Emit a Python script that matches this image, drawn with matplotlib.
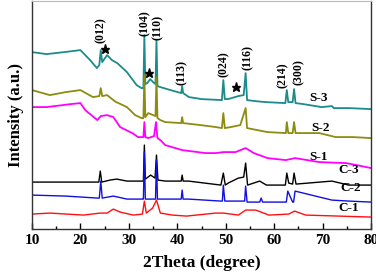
import matplotlib
matplotlib.use("Agg")
import matplotlib.pyplot as plt
from matplotlib.ticker import MultipleLocator

# XRD patterns, 2theta (deg) and intensity (a.u.)
tt_s3 = [10, 13, 16.7, 20, 21, 22, 23.4, 23.9, 24.2, 24.5, 25.5, 26.5, 27.6, 29.6, 31.6, 32.6,
         33.0, 33.2, 33.4, 33.8, 34.4, 35.0, 35.5, 35.7, 35.9, 36.5, 38.6, 40.8, 41.0, 41.2,
         42.4, 45, 49.2, 49.5, 49.8, 50.5, 52.6, 53.7, 54.1, 54.4, 56, 58.2, 62.3, 62.6, 62.9,
         63.8, 64.1, 64.4, 66, 69.8, 71.9, 72.3, 75.4, 80]
int_s3 = [177, 175, 177, 179, 174, 169, 161, 164, 179, 167, 174, 169, 166, 157, 144, 141,
          141, 194, 145, 146, 150, 147, 145, 189, 143, 142, 139, 136, 143, 136,
          132, 130, 129, 149, 130, 130, 133, 134, 156, 129, 128, 127, 126, 139, 127,
          127, 140, 126, 125, 122, 123, 121, 121, 120]

tt_s2 = [10, 13.7, 17, 20, 22.6, 23.9, 24.2, 24.5, 25.5, 27.2, 29.6, 31.3, 32.6, 33.0, 33.2,
         33.4, 34.0, 35.0, 35.5, 35.7, 35.9, 36.5, 37.5, 40.8, 41.0, 41.2, 44.8, 48, 49.2,
         49.5, 49.8, 51, 53, 54.1, 54.4, 58.6, 62.4, 62.6, 62.9, 63.8, 64.1, 64.4, 69.3,
         72.7, 76.3, 80]
int_s2 = [139, 134, 137, 139, 132, 133, 141, 133, 134, 127.5, 122, 114, 111, 111, 154,
          112, 116, 114, 113, 152, 111, 109, 107, 106, 112, 106, 104, 102, 101,
          116, 101, 102, 104, 121, 101, 97, 96, 107, 96, 96, 107, 96, 96,
          92, 92, 91]

tt_s1 = [10, 13, 16.4, 18, 20, 21, 22, 23.5, 24.2, 25.5, 26.8, 28.2, 30.7, 31.9, 33.0, 33.2,
         33.4, 34.0, 35.2, 35.6, 35.9, 36.5, 37.5, 41, 45.8, 48, 49.5, 52, 54.1, 55.8, 58.6,
         62.4, 64.3, 69.3, 74.8, 77, 80]
int_s1 = [122, 122, 124, 125, 126, 119, 115, 109, 113, 114, 112, 102, 96, 92, 92, 107,
          92, 91, 93, 107, 91, 89, 84, 79, 76, 76, 77, 77, 81, 76, 71,
          69, 71, 67, 66, 64, 61]

tt_c3 = [10, 17, 23.8, 24.1, 24.4, 26.1, 27.5, 29.6, 32.3, 33.0, 33.2, 33.4, 34.5, 35.4,
         35.7, 36.0, 37.6, 40.8, 41.0, 41.2, 42.3, 49.0, 49.5, 49.9, 50.5, 52.6, 53.7, 54.1,
         54.5, 57.0, 58.4, 62.3, 62.6, 63.0, 63.8, 64.1, 64.5, 71.9, 75.4, 80]
int_c3 = [47, 47, 47, 58, 47, 49, 50, 48, 48, 48, 84, 50, 54, 51,
          74, 49, 48, 48, 54, 48, 48, 44, 56, 44, 46, 51, 52, 66,
          44, 48, 44, 44, 56, 46, 45, 56, 45, 48, 44, 44]

tt_c2 = [10, 17, 23.5, 23.9, 24.2, 24.5, 26.8, 29.6, 32.8, 33.0, 33.2, 33.4, 35.5, 35.7,
         35.9, 40.8, 41.0, 41.2, 42.3, 49.0, 49.3, 49.5, 49.8, 53.0, 53.9, 54.1, 54.4, 57.0,
         57.3, 57.6, 62.3, 62.5, 62.8, 63.8, 64.0, 64.3, 71.9, 75.4, 80]
int_c2 = [34, 33, 31, 31, 48, 31, 33, 30, 30, 30, 77, 30, 30, 69,
          30, 30, 39, 30, 30, 28, 28, 44, 28, 28, 28, 43, 27, 27,
          31, 27, 27, 27, 38, 27, 27, 38, 29, 28, 27]

tt_c1 = [10, 13.7, 20.6, 24.1, 25.5, 26.8, 28.2, 30.9, 32.8, 33.2, 33.6, 34.9, 35.7, 36.5,
         39.0, 41.9, 47.9, 49.5, 52.6, 54.1, 56.2, 58.9, 63.0, 64.2, 66.5, 73.3, 80]
int_c1 = [15, 16, 14, 16, 16, 20, 17, 14, 15, 28, 16, 21, 29, 16,
          14, 13, 16, 16, 14, 19, 19, 14, 15, 18, 14, 13, 12]

series_tt = [tt_s3, tt_s2, tt_s1, tt_c3, tt_c2, tt_c1]
series_int = [int_s3, int_s2, int_s1, int_c3, int_c2, int_c1]
series_names = ["S-3", "S-2", "S-1", "C-3", "C-2", "C-1"]
series_colors = ["#1b8b8b", "#8c8c10", "#ff00ff", "black", "#1010e0", "#ff1010"]

# where the sample names sit (2theta, intensity)
name_tt = [69.2, 69.5, 69.2, 75.4, 75.8, 75.4]
name_int = [131, 101, 72, 59, 41, 21]

# hkl labels above the peaks
hkl_labels = ["(012)", "(104)", "(110)", "(113)", "(024)", "(116)", "(214)", "(300)"]
hkl_tt = [24.3, 33.2, 35.9, 41.0, 49.5, 54.5, 61.8, 65.1]
hkl_int = [199, 206, 202, 157, 165, 172, 154, 157]

# impurity peaks marked with a star
star_tt = [25.0, 34.2, 52.2]
star_int = [180, 156, 142]

serif = ["Liberation Serif", "DejaVu Serif"]

fig = plt.figure(figsize=(3.76, 2.76), dpi=100)
ax = fig.add_axes([0.085, 0.170, 0.902, 0.826])

for i in range(len(series_names)):
    lw = 1.3 if i < 3 else 1.0
    ax.plot(series_tt[i], series_int[i], color=series_colors[i], lw=lw)
    ax.text(name_tt[i], name_int[i], series_names[i], fontsize=9.5, fontweight="bold",
            family=serif, ha="center", va="center", color="black")

for i in range(len(hkl_labels)):
    ax.text(hkl_tt[i], hkl_int[i], hkl_labels[i], rotation=90, fontsize=8.5, fontweight="bold",
            family=serif, ha="center", va="center")

ax.plot(star_tt, star_int, ls="none", marker="*", color="black", markersize=6.5)

ax.set_xlim(10, 80)
ax.set_ylim(0, 228)
ax.xaxis.set_major_locator(MultipleLocator(10))
ax.xaxis.set_minor_locator(MultipleLocator(5))
ax.tick_params(axis="x", which="both", direction="in", top=False)
ax.tick_params(axis="x", which="major", length=4, width=1)
ax.tick_params(axis="x", which="minor", length=2, width=1)
ax.set_yticks([])

for label in ax.get_xticklabels():
    label.set_fontfamily(serif)
    label.set_fontweight("bold")
    label.set_fontsize(11)

for side in ["left", "bottom", "right"]:
    ax.spines[side].set_linewidth(1.0)
    ax.spines[side].set_color("#333333")
ax.spines["top"].set_linewidth(0.8)
ax.spines["top"].set_color("#bbbbbb")

ax.set_xlabel("2Theta (degree)", fontsize=12.5, fontweight="bold", family=serif, labelpad=6)
ax.set_ylabel("Intensity (a.u.)", fontsize=12, fontweight="bold", family=serif, labelpad=6)

fig.savefig("out.png", dpi=100)
